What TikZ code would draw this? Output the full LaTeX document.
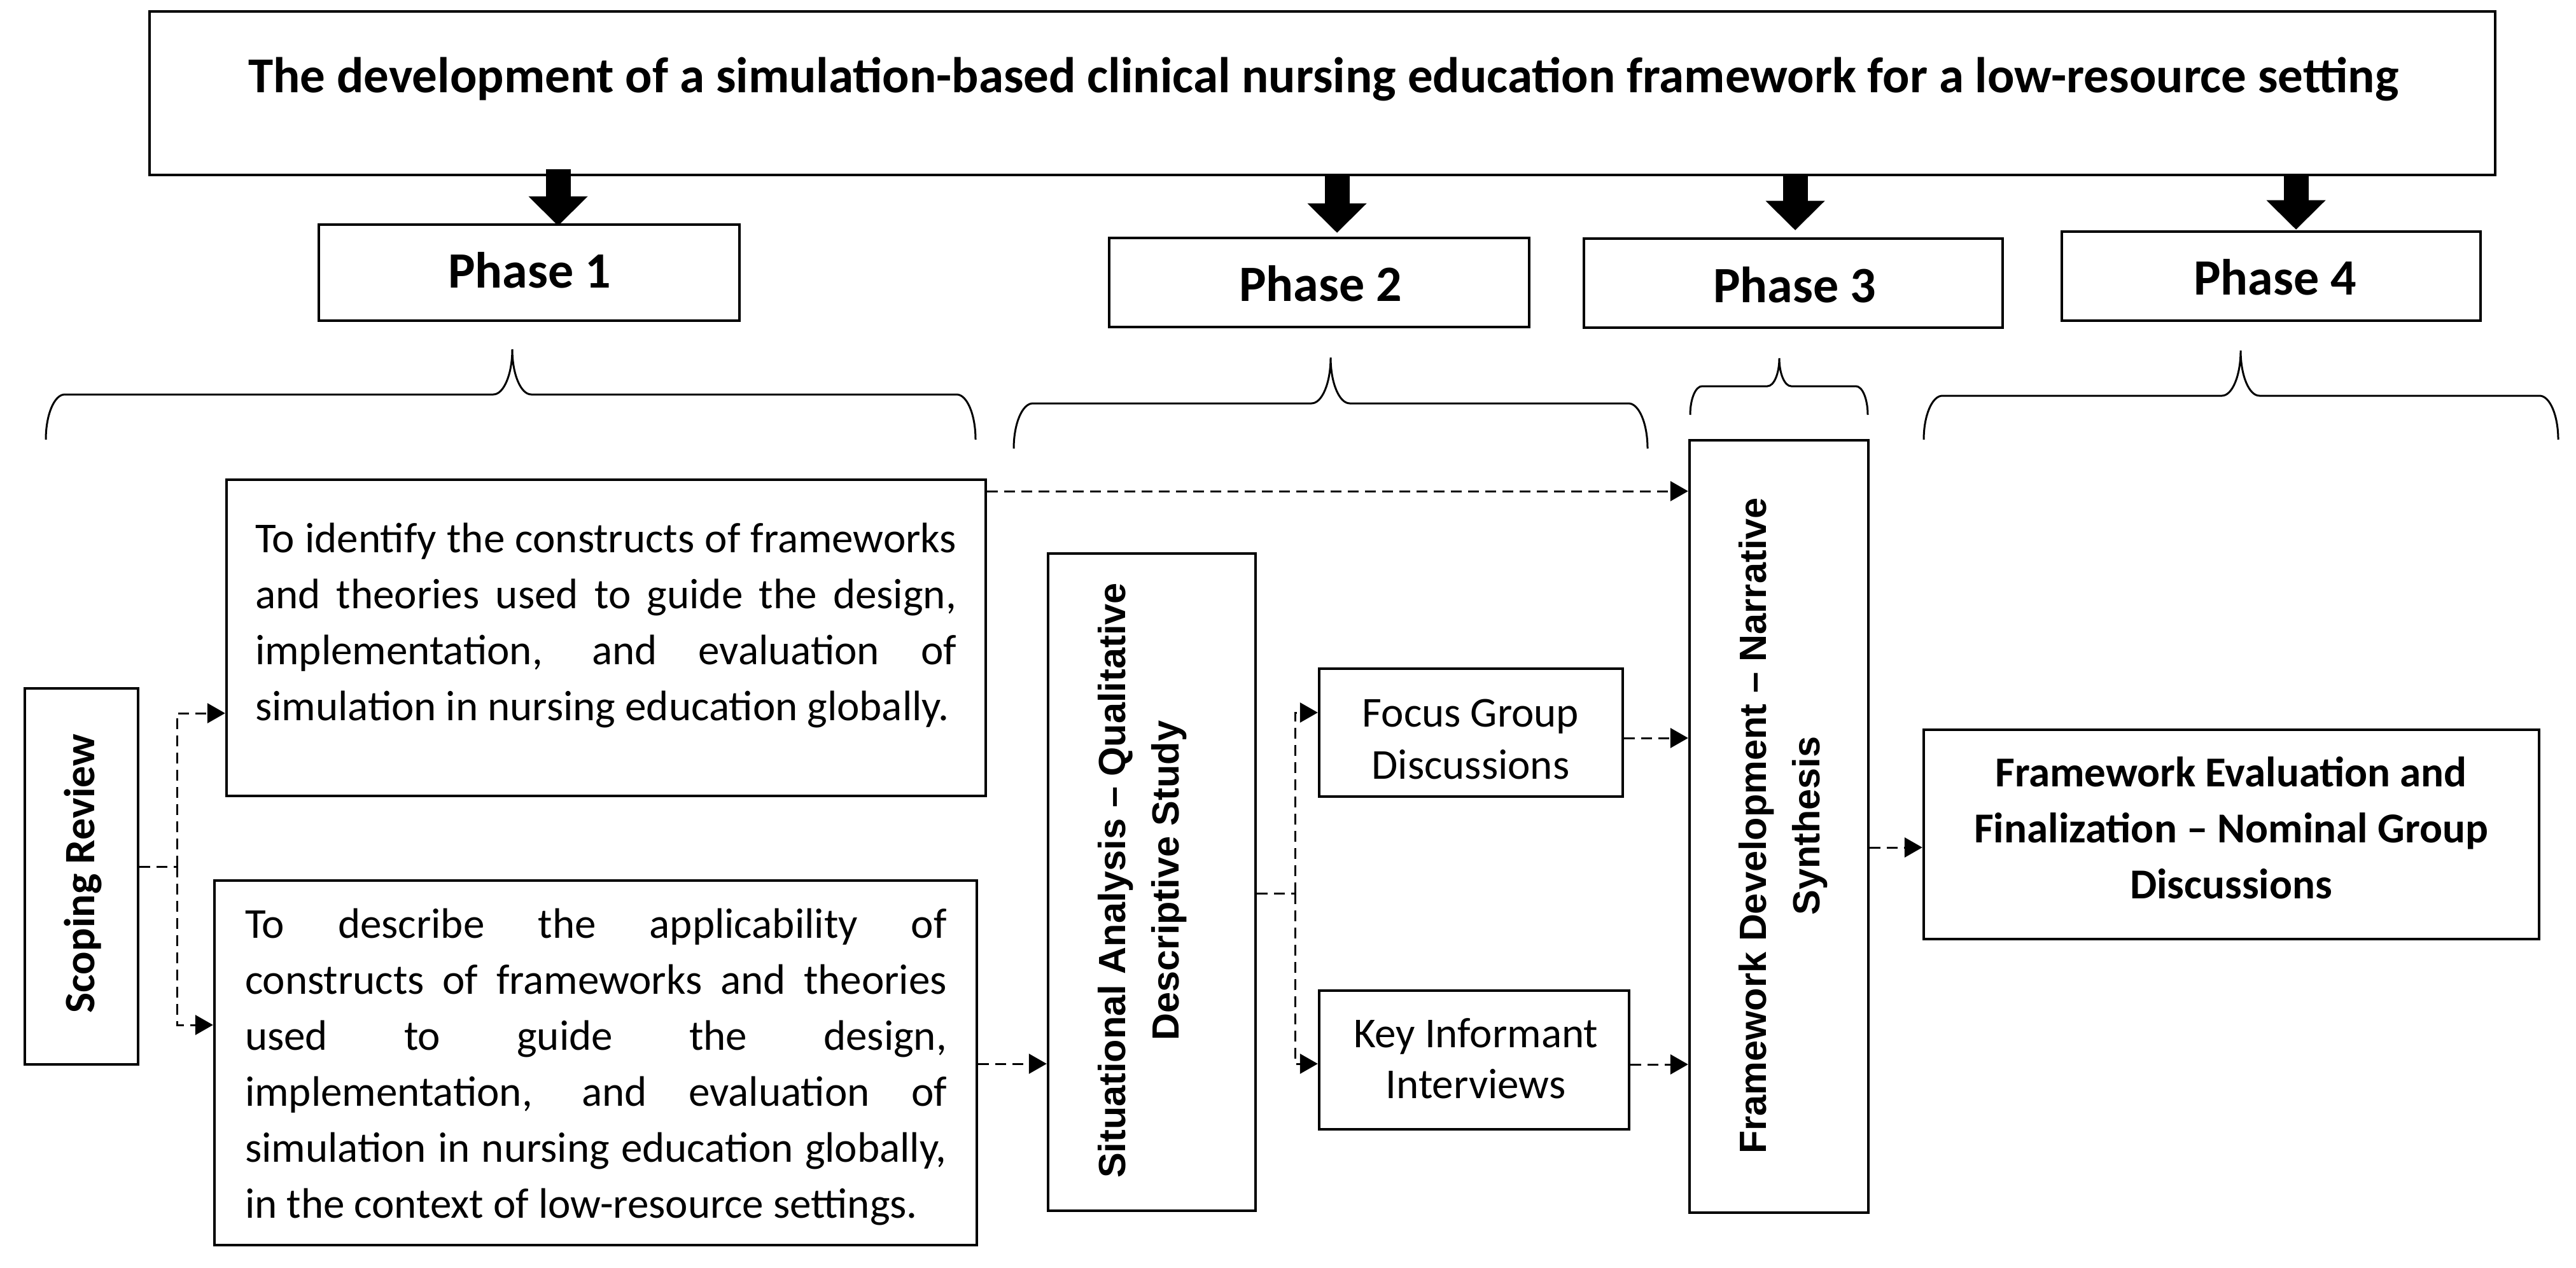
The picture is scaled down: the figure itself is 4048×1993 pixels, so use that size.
\documentclass[tikz,border=0pt]{standalone}
\usepackage{fontspec}
\setmainfont{Carlito}
\newfontfamily\arialfont{Liberation Sans}
\usetikzlibrary{arrows.meta}

\newcommand\topbrace[6]{%
  \pgfmathsetmacro\bcH{#6-#4}%
  \pgfmathsetmacro\bcRX{0.21*\bcH}%
  \pgfmathsetmacro\bcRA{#6-#5}%
  \pgfmathsetmacro\bcRB{#5-#4}%
  \draw[brc] (#1,#6) .. controls (#1,{#6-0.552*\bcRA}) and ({#1+0.448*\bcRX},#5) .. ({#1+\bcRX},#5)
    -- ({#3-\bcRX},#5) .. controls ({#3-0.448*\bcRX},#5) and (#3,{#5-0.448*\bcRB}) .. (#3,#4)
    .. controls (#3,{#5-0.448*\bcRB}) and ({#3+0.448*\bcRX},#5) .. ({#3+\bcRX},#5)
    -- ({#2-\bcRX},#5) .. controls ({#2-0.448*\bcRX},#5) and (#2,{#6-0.552*\bcRA}) .. (#2,#6);
}

\begin{document}
\begin{tikzpicture}[x=1pt,y=-1pt,
  box/.style={draw, line width=4.5pt, inner sep=0pt, anchor=center},
  txt/.style={inner sep=0pt, outer sep=0pt},
  bigarr/.style={line width=39pt, -{Triangle[length=46pt,width=93pt,line width=0pt]}},
  dline/.style={line width=3pt, dash pattern=on 17pt off 10pt},
  darr/.style={dline, -{Triangle[length=28pt,width=32pt,line width=0pt]}},
  brc/.style={line width=3pt},
  bodyfont/.style={font=\fontsize{67}{88}\selectfont},
  boldfont/.style={font=\bfseries\fontsize{67}{88}\selectfont},
  phasefont/.style={font=\bfseries\fontsize{80}{96}\selectfont},
  vertfont/.style={font=\arialfont\bfseries\fontsize{59.5}{84}\selectfont},
]
\fill[white] (0,0) rectangle (4048,1993);
\useasboundingbox (0,0) rectangle (4048,1993);

% ---------- title ----------
\node[box, minimum width=3686pt, minimum height=257pt] (title) at (2078,146.5) {};
\node[txt, anchor=base, font=\bfseries\fontsize{79}{95}\selectfont] (titletext) at (2080,146)
  {The development of a simulation-based clinical nursing education framework for a low-resource setting};

% ---------- phases ----------
\node[box, minimum width=661pt, minimum height=151pt] (ph1) at (831.5,428.5) {};
\node[box, minimum width=660pt, minimum height=140pt] (ph2) at (2073,444) {};
\node[box, minimum width=658pt, minimum height=140pt] (ph3) at (2818,445) {};
\node[box, minimum width=658pt, minimum height=140pt] (ph4) at (3569,434) {};
\node[txt, anchor=base, phasefont] (ph1text) at (832,452) {Phase 1};
\node[txt, anchor=base, phasefont] (ph2text) at (2075,473) {Phase 2};
\node[txt, anchor=base, phasefont] (ph3text) at (2820,475) {Phase 3};
\node[txt, anchor=base, phasefont] (ph4text) at (3575,463) {Phase 4};

% ---------- big arrows ----------
\coordinate (xa1) at (877,0);
\coordinate (xa2) at (2101,0);
\coordinate (xa3) at (2821,0);
\coordinate (xa4) at (3608,0);
\draw[bigarr, shorten <=-11pt, shorten >=-4pt] (title.south -| xa1) -- (ph1.north -| xa1);
\draw[bigarr, shorten >=6pt] (title.south -| xa2) -- (ph2.north -| xa2);
\draw[bigarr, shorten >=11pt] (title.south -| xa3) -- (ph3.north -| xa3);
\draw[bigarr, shorten >=1pt] (title.south -| xa4) -- (ph4.north -| xa4);

% ---------- braces ----------
\topbrace{72}{1533}{805}{549}{620}{691}
\topbrace{1593}{2589}{2091}{562}{634}{705}
\topbrace{2656}{2935}{2796}{563}{607}{652}
\topbrace{3023}{4020}{3521}{551}{622}{691}

% ---------- lower boxes ----------
\node[box, minimum width=178pt, minimum height=591pt] (scop) at (128,1377.5) {};
\node[txt, rotate=90, anchor=base, font=\bfseries\fontsize{68}{82}\selectfont] (scoptext) at (148,1373) {Scoping Review};

\node[box, minimum width=1193pt, minimum height=497pt] (A) at (952.5,1002.5) {};
\node[txt, align=left, bodyfont] (Atext) at (952,983)
  {\makebox[1102pt][s]{To identify the constructs of frameworks}\\
   \makebox[1102pt][s]{and theories used to guide the design,}\\
   \makebox[1102pt][s]{implementation, and evaluation of}\\
   \makebox[1102pt][l]{simulation in nursing education globally.}};

\node[box, minimum width=1198pt, minimum height=573pt] (B) at (936,1670.5) {};
\node[txt, align=left, bodyfont] (Btext) at (936.5,1677)
  {\makebox[1103pt][s]{To describe the applicability of}\\
   \makebox[1103pt][s]{constructs of frameworks and theories}\\
   \makebox[1103pt][s]{used to guide the design,}\\
   \makebox[1103pt][s]{implementation, and evaluation of}\\
   \makebox[1103pt][s]{simulation in nursing education globally,}\\
   \makebox[1103pt][l]{in the context of low-resource settings.}};

\node[box, minimum width=326pt, minimum height=1033pt] (sit) at (1810,1386.5) {};
\node[txt, rotate=90, align=center, vertfont] (sittext) at (1795,1384)
  {Situational Analysis – Qualitative\\Descriptive Study};

\node[box, minimum width=477pt, minimum height=201pt] (fg) at (2311.5,1151.5) {};
\node[txt, align=center, font=\fontsize{67}{82}\selectfont] (fgtext) at (2311,1162) {Focus Group\\Discussions};

\node[box, minimum width=487pt, minimum height=218pt] (ki) at (2316.5,1666) {};
\node[txt, align=center, font=\fontsize{67}{80}\selectfont] (kitext) at (2319,1663.5) {Key Informant\\Interviews};

\node[box, minimum width=281pt, minimum height=1214pt] (fd) at (2795.5,1299) {};
\node[txt, rotate=90, align=center, vertfont] (fdtext) at (2802,1298)
  {Framework Development – Narrative\\Synthesis};

\node[box, minimum width=967pt, minimum height=329pt] (fe) at (3506.5,1311.5) {};
\node[txt, align=center, boldfont] (fetext) at (3506,1301.5)
  {Framework Evaluation and\\Finalization – Nominal Group\\Discussions};

% ---------- dashed connectors ----------
\coordinate (jS) at (278,1362);
\coordinate (jA) at (278,1121);
\coordinate (jB) at (278,1611);
\draw[dline] (scop.east |- jS) -- (jS);
\draw[darr] (jS) -- (jA) -- (A.west |- jA);
\draw[darr] (jS) -- (jB) -- (B.west |- jB);

\coordinate (yAF) at (0,772);
\draw[darr] (A.east |- yAF) -- (fd.west |- yAF);

\coordinate (yBS) at (0,1672);
\draw[darr] (B.east |- yBS) -- (sit.west |- yBS);

\coordinate (jT) at (2035,1404);
\coordinate (jF) at (2035,1120);
\coordinate (jK) at (2035,1672);
\draw[dline] (sit.east |- jT) -- (jT);
\draw[darr] (jT) -- (jF) -- (fg.west |- jF);
\draw[darr] (jT) -- (jK) -- (ki.west |- jK);

\coordinate (yF) at (0,1160);
\draw[darr] (fg.east |- yF) -- (fd.west |- yF);
\coordinate (yK) at (0,1673);
\draw[darr] (ki.east |- yK) -- (fd.west |- yK);
\coordinate (yE) at (0,1332);
\draw[darr] (fd.east |- yE) -- (fe.west |- yE);
\end{tikzpicture}
\end{document}
